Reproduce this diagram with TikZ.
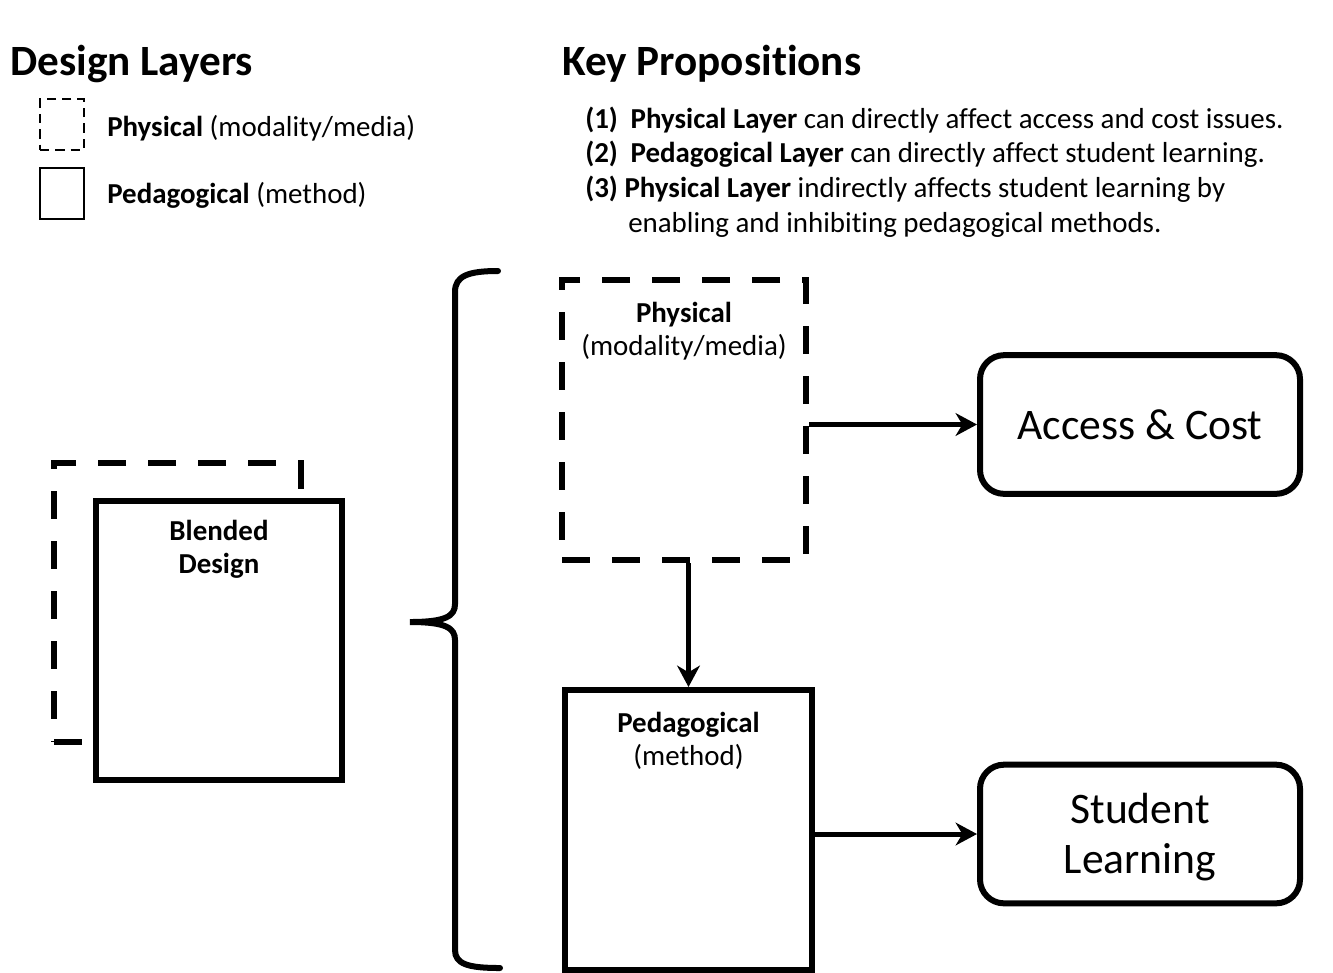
\documentclass[tikz,border=0pt]{standalone}
\usepackage{fontspec}
\setmainfont{Carlito}[Ligatures=NoCommon]
\usetikzlibrary{arrows.meta,positioning}

\newcommand{\bodysize}{\fontsize{21.7}{24.75}\selectfont}
\newcommand{\headsize}{\fontsize{32.4}{36}\selectfont}
\newcommand{\bigsize}{\fontsize{32.7}{37.5}\selectfont}

\begin{document}
\begin{tikzpicture}[x=0.75pt, y=-0.75pt, >=Stealth,
    layerbox/.style={draw, line width=4.5pt, fill=white, inner sep=0pt},
    dashlayer/.style={layerbox, dash pattern=on 21pt off 16.5pt},
    legbox/.style={draw, line width=1.1pt, minimum width=33pt, minimum height=38pt},
    outcome/.style={draw, line width=4.5pt, rounded corners=18pt, minimum width=240pt,
      minimum height=104pt, align=center, font=\bigsize},
    boxtext/.style={align=center, font=\bodysize, inner sep=0pt},
    link/.style={-{Stealth[length=16pt, width=17pt, inset=5pt]}, line width=3.75pt}]
  \useasboundingbox (0,0) rectangle (1333,972);

  % Design layers legend
  \node[anchor=base west, inner sep=0pt, font=\headsize\bfseries] (laytitle) at (10,75) {Design Layers};
  \node[legbox, dash pattern=on 7pt off 4.5pt] (legphys) at (62,124.5) {};
  \node[legbox] (legped) at (62,193.5) {};
  \node[boxtext, anchor=west] (legphystxt) at (107,128) {\textbf{Physical} (modality/media)};
  \node[boxtext, anchor=west] (legpedtxt) at (107,195) {\textbf{Pedagogical} (method)};

  % Key propositions
  \node[anchor=base west, inner sep=0pt, font=\headsize\bfseries] (proptitle) at (562,75) {Key Propositions};
  \node[boxtext, anchor=base west] (prop1) at (585,128)
    {\makebox[34pt][l]{\textbf{(1)}}\textbf{Physical Layer} can directly affect access and cost issues.};
  \node[boxtext, anchor=base west] (prop2) at (585,162)
    {\makebox[34pt][l]{\textbf{(2)}}\textbf{Pedagogical Layer} can directly affect student learning.};
  \node[boxtext, anchor=base west] (prop3) at (585,197)
    {\textbf{(3) Physical Layer} indirectly affects student learning by};
  \node[boxtext, anchor=base west] (prop4) at (628,232)
    {enabling and inhibiting pedagogical methods.};

  % Blended design (two stacked layers)
  \node[dashlayer, minimum width=185pt, minimum height=209pt] (blendphys) at (177.5,602.5) {};
  \node[layerbox, minimum width=184.5pt, minimum height=209pt] (blend) at (219,640.5) {};
  \node[boxtext, font=\bodysize\bfseries, below=16.5pt of blend.north] (blendtxt) {Blended\\Design};

  % Brace
  \draw[line width=4.5pt, line cap=round] (498,271) .. controls (468,271) and (455,276) .. (455,292)
    -- (455,604) .. controls (455,616) and (446,622) .. (410,622)
    .. controls (446,622) and (455,628) .. (455,640)
    -- (455,950) .. controls (455,964) and (468,968) .. (500,968);

  % Layers
  \node[dashlayer, minimum width=183pt, minimum height=210pt] (phys) at (684,420) {};
  \node[boxtext, below=18.5pt of phys.north] (physlbl) {\textbf{Physical}\\(modality/media)};
  \node[layerbox, minimum width=185pt, minimum height=210pt] (ped) at (688.5,830) {};
  \node[boxtext, below=18.5pt of ped.north] (pedlbl) {\textbf{Pedagogical}\\(method)};

  % Outcomes
  \node[outcome] (access) at (1140,424.5) {Access \& Cost};
  \node[outcome, text depth=1pt] (learn) at (1140,834) {Student\\Learning};

  % Arrows
  \draw[link] (phys.east |- access.west) -- (access.west);
  \draw[link] (phys.south -| ped.north) -- (ped.north);
  \draw[link] (ped.east |- learn.west) -- (learn.west);
\end{tikzpicture}
\end{document}
